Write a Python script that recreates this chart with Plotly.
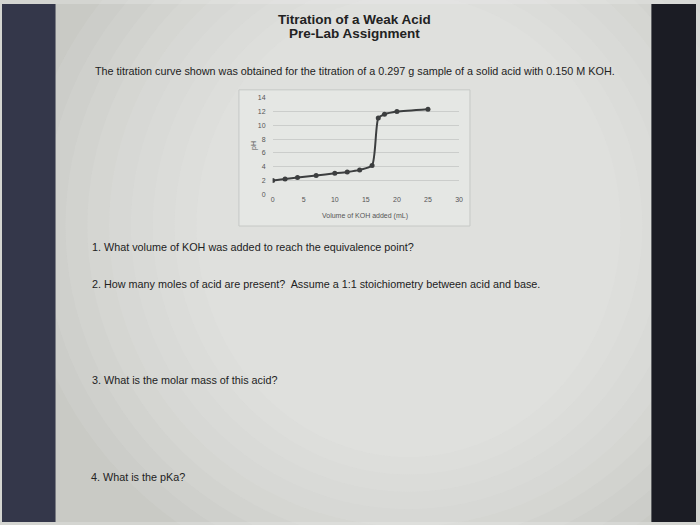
import plotly.graph_objects as go

# titration data
koh_volume = [0, 2, 4, 7, 10, 12, 14, 16, 17, 18, 20, 25]   # mL
ph_values = [2.0, 2.25, 2.45, 2.75, 3.05, 3.25, 3.55, 4.2, 11.05, 11.6, 12.0, 12.35]
x_ticks = [0, 5, 10, 15, 20, 25, 30]
y_ticks = [0, 2, 4, 6, 8, 10, 12, 14]

W, H = 700, 525
font = "Liberation Sans, Arial, sans-serif"

def px(x):  # pixel -> paper fraction
    return x / W

def py(y):
    return 1 - y / H

fig = go.Figure()

fig.add_trace(go.Scatter(
    x=koh_volume, y=ph_values, mode="lines+markers",
    line=dict(color="#3c3e3f", width=2, shape="spline", smoothing=0.6),
    marker=dict(color="#3c3e3f", size=5),
    showlegend=False, hoverinfo="x+y"))

shapes = []
# paper background + soft lighting
shapes.append(dict(type="rect", xref="paper", yref="paper", x0=0, x1=1, y0=0, y1=1,
                   fillcolor="#c9cac5", line_width=0, layer="below"))
for i in range(9):
    k = i * 22
    shapes.append(dict(type="circle", xref="paper", yref="paper",
                       x0=px(20 + k), x1=px(800 - k), y0=py(600 - k * 0.8), y1=py(-150 + k * 0.8),
                       fillcolor="rgba(240,242,240,0.09)", line_width=0, layer="below"))
# dark edges of the photo
shapes.append(dict(type="rect", xref="paper", yref="paper", x0=0, x1=px(54), y0=0, y1=1,
                   fillcolor="#34374a", line_width=0, layer="below"))
shapes.append(dict(type="rect", xref="paper", yref="paper", x0=px(655), x1=1, y0=0, y1=1,
                   fillcolor="#1b1c24", line_width=0, layer="below"))
# chart box
shapes.append(dict(type="rect", xref="paper", yref="paper", x0=px(239), x1=px(472),
                   y0=py(225), y1=py(87), fillcolor="rgba(236,238,236,0.5)",
                   line=dict(color="#c6c8c6", width=1), layer="below"))

texts = [
    ("<b>Titration of a Weak Acid</b>", 356, 16, 13.5, "center"),
    ("<b>Pre-Lab Assignment</b>", 356, 30, 13.5, "center"),
    ("The titration curve shown was obtained for the titration of a 0.297 g sample of a solid acid with 0.150 M KOH.", 92, 68, 10.8, "left"),
    ("1. What volume of KOH was added to reach the equivalence point?", 89, 246, 10.8, "left"),
    ("2. How many moles of acid are present?  Assume a 1:1 stoichiometry between acid and base.", 89, 284, 10.8, "left"),
    ("3. What is the molar mass of this acid?", 89, 381, 10.8, "left"),
    ("4. What is the pKa?", 88, 479, 10.8, "left"),
]
annotations = []
for t, x, y, s, al in texts:
    annotations.append(dict(text=t, x=px(x), y=py(y), xref="paper", yref="paper",
                            xanchor=al, yanchor="middle", showarrow=False,
                            font=dict(family=font, size=s, color="#222")))
annotations.append(dict(text="Volume of KOH added (mL)", x=px(366), y=py(215), xref="paper", yref="paper",
                        xanchor="center", yanchor="middle", showarrow=False,
                        font=dict(family=font, size=7, color="#555")))
annotations.append(dict(text="pH", x=px(254), y=py(143), xref="paper", yref="paper",
                        xanchor="center", yanchor="middle", showarrow=False, textangle=-90,
                        font=dict(family=font, size=7, color="#555")))

fig.update_layout(
    width=W, height=H, margin=dict(l=0, r=0, t=0, b=0),
    paper_bgcolor="#d4d5d1", plot_bgcolor="rgba(0,0,0,0)",
    shapes=shapes, annotations=annotations,
    xaxis=dict(domain=[px(273), px(461)], range=[0, 30], tickvals=x_ticks,
               showgrid=False, zeroline=False, showline=False, ticks="",
               tickfont=dict(family=font, size=7, color="#555")),
    yaxis=dict(domain=[py(193), py(95)], range=[0, 14], tickvals=y_ticks,
               showgrid=True, gridcolor="#cbcdcb", gridwidth=1, zeroline=False,
               showline=False, ticks="", ticklabelstandoff=6,
               tickfont=dict(family=font, size=7, color="#555")),
)

fig.write_html("out.html", config={"displayModeBar": False},
               post_script="document.body.style.margin='0';document.documentElement.style.margin='0';document.body.style.padding='0';document.body.style.background='#c9cac5';")
